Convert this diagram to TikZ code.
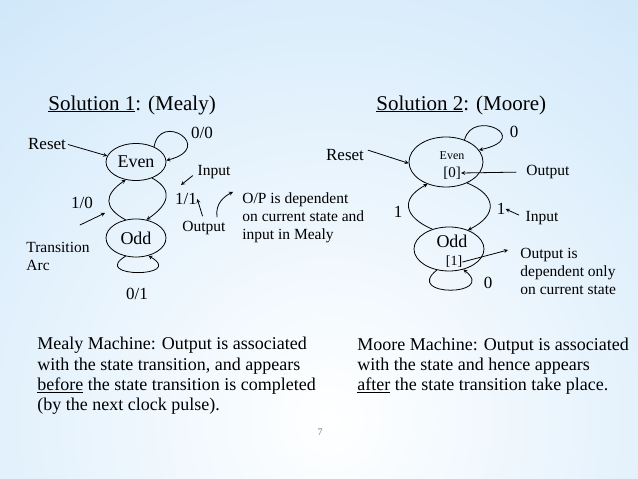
\documentclass[tikz,border=0pt]{standalone}
\usepackage{fontspec}
\setmainfont{Liberation Serif}
\usetikzlibrary{shapes.geometric,positioning}
\definecolor{bgblue}{RGB}{160,208,245}
\definecolor{numgray}{RGB}{120,120,120}

\begin{document}
\begin{tikzpicture}[>=stealth,x=1pt,y=1pt,line join=round,line cap=round,line width=0.8pt,
	title/.style={font=\fontsize{21}{24}\selectfont,inner sep=0pt},
	body/.style={font=\fontsize{18}{20.3}\selectfont,align=left,inner sep=0pt},
	lab/.style={font=\fontsize{17}{19}\selectfont,inner sep=0pt},
	note/.style={font=\fontsize{15.5}{18}\selectfont,align=left,inner sep=0pt},
	state/.style={draw,ellipse,inner sep=0pt,font=\fontsize{18}{20}\selectfont}]
	\useasboundingbox (0,0) rectangle (638,479);
	% background
	\begin{scope}
		\clip (0,0) rectangle (638,479);
		\shade[inner color=white,outer color=bgblue] (330,59) circle (1080);
	\end{scope}
	% Mealy
	\node[title,anchor=west] (sol1) at (48,374) {\underline{Solution 1}: (Mealy)};
	\node[state,minimum width=60,minimum height=37] (even1) at (136,317) {Even};
	\node[state,minimum width=60,minimum height=38] (odd1) at (136,241) {Odd};
	\node[lab] (reset1) at (47,335) {Reset};
	\node[lab] (l00) at (202,346) {0/0};
	\node[lab] (l10) at (82,276) {1/0};
	\node[lab] (l11) at (186,280) {1/1};
	\node[lab] (l01) at (137,185) {0/1};
	\node[note] (input1) at (214,307) {Input};
	\node[note] (output1) at (204,251) {Output};
	\node[note,anchor=west] (trans) at (26,223) {Transition\\Arc};
	\node[note,anchor=west] (opdep) at (242,261) {O/P is dependent\\on current state and\\input in Mealy};
	\coordinate (tarc0) at (80,254);
	\coordinate (tarc) at (105,266);
	\coordinate (in1) at (181,294);
	\coordinate (crv0) at (217,262);
	\coordinate (crv1) at (233,287);
	\draw[->,shorten <=2pt] (reset1.east) -- (even1.168);
	\draw[->] (even1.40) .. controls +(6,36) and +(50,13) .. (even1.3);
	\draw[->] (even1.-45) .. controls +(22,-12) and +(22,15) .. (odd1.60);
	\draw[->] (odd1.120) .. controls +(-22,12) and +(-22,-15) .. (even1.-120);
	\draw[->] (odd1.-120) .. controls +(-36,-22) and +(38,-22) .. (odd1.-55);
	\draw[->] (tarc0) -- (tarc);
	\draw[->,shorten <=6pt] (input1.west) -- (in1);
	\draw[->,shorten <=5pt] (output1.north) -- (l11.east);
	\draw[->] (crv0) .. controls +(-2,14) and +(-8,-4) .. (crv1);
	% Moore
	\node[title,anchor=west] (sol2) at (376,374) {\underline{Solution 2}: (Moore)};
	\node[draw,ellipse,minimum width=74,minimum height=50] (even2) at (446,317) {};
	\node[draw,ellipse,minimum width=70,minimum height=44] (odd2) at (449,230) {};
	\node[font=\fontsize{12}{14}\selectfont,inner sep=0pt] (evtxt) at (452,323) {Even};
	\node[font=\fontsize{15}{17}\selectfont,inner sep=0pt] (ev0) at (452,306) {[0]};
	\node[font=\fontsize{18}{20}\selectfont,inner sep=0pt] (oddtxt) at (452,238) {Odd};
	\node[font=\fontsize{14}{16}\selectfont,inner sep=0pt] (od1) at (454,217) {[1]};
	\node[lab] (reset2) at (345,324) {Reset};
	\node[lab] (l0a) at (514,347) {0};
	\node[lab] (l1a) at (398,267) {1};
	\node[lab] (l1b) at (501,270) {1};
	\node[lab] (l0b) at (488,196) {0};
	\node[note] (output2) at (548,307) {Output};
	\node[note] (input2) at (542,261) {Input};
	\node[note,anchor=west] (depend) at (520,208) {Output is\\dependent only\\on current state};
	\coordinate (dep) at (508,229);
	\draw[->,shorten <=4pt] (reset2.north east) -- (even2.182);
	\draw[->] (even2.50) .. controls +(8,32) and +(55,12) .. (even2.20);
	\draw[->,shorten <=10pt] (output2.west) -- (ev0.east);
	\draw[->] (odd2.130) .. controls +(-28,12) and +(-28,-15) .. (even2.-130);
	\draw[->] (even2.-45) .. controls +(30,-12) and +(30,15) .. (odd2.45);
	\draw[->,shorten <=7pt] (input2.west) -- (l1b.east);
	\draw[->] (od1.east) -- (dep);
	\draw[->] (odd2.-120) .. controls +(-34,-27) and +(34,-27) .. (odd2.-55);
	% text
	\node[body,anchor=west] (mealy) at (37,103) {Mealy Machine: Output is associated\\with the state transition, and appears\\\underline{before} the state transition is completed\\(by the next clock pulse).};
	\node[body,anchor=west] (moore) at (357,113) {Moore Machine: Output is associated\\with the state and hence appears\\\underline{after} the state transition take place.};
	\node[font=\fontsize{10}{12}\selectfont,text=numgray,inner sep=0pt] (pg) at (320,47) {7};
\end{tikzpicture}
\end{document}
